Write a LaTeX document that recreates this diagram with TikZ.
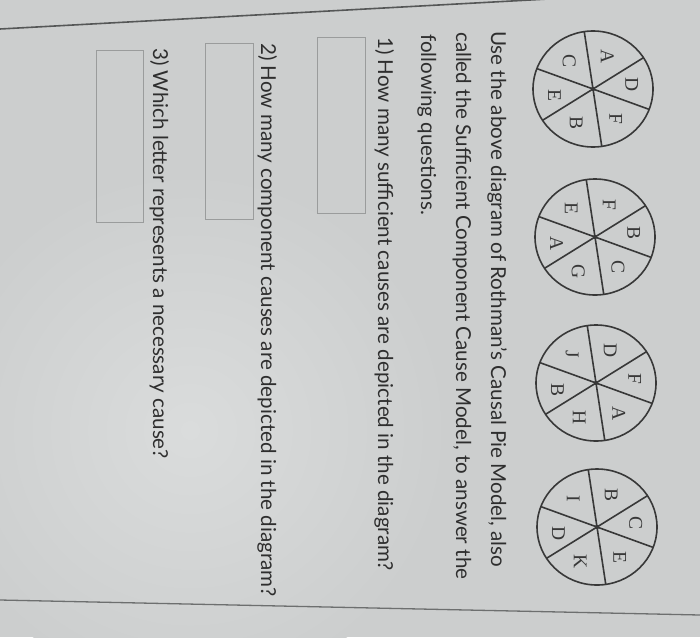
\documentclass[tikz,border=0pt]{standalone}
\usepackage{fontspec}
\setmainfont{Lato}
\newfontfamily\piefont{Liberation Serif}
\usetikzlibrary{calc}
\definecolor{bg}{HTML}{CCCECE}
\definecolor{bglight}{HTML}{DADCDC}
\definecolor{txt}{HTML}{2E2E2E}
\definecolor{pieink}{HTML}{383838}
\definecolor{boxc}{HTML}{9A9C9C}
\definecolor{rule}{HTML}{555757}
\newlength\qlen
\newcommand\causepie[8]{%
  \coordinate (#1) at #2;
  \draw[pieline] (#1) ellipse [x radius=60, y radius=58];
  \foreach \a in {81.6,20.6,-32.7}
    \draw[pieline] ($(#1)+(\a:60 and 58)$) -- ($(#1)+(\a+180:60 and 58)$);
  \fill[pieink] (#1) circle (2.2);
  \node[pielbl] (#1-c) at ($(#1)+(-130:37)$) {#3};
  \node[pielbl] (#1-a) at ($(#1)+(-66:35)$) {#4};
  \node[pielbl] (#1-d) at ($(#1)+(-6:39)$) {#5};
  \node[pielbl] (#1-f) at ($(#1)+(53:38)$) {#6};
  \node[pielbl] (#1-b) at ($(#1)+(116:38)$) {#7};
  \node[pielbl] (#1-e) at ($(#1)+(170:39)$) {#8};
}
\begin{document}
\settowidth\qlen{\fontsize{20}{24}\selectfont Use the above diagram of Rothman's Causal Pie Model, also}%
\pgfmathsetmacro\qsize{20*536/\qlen}%
\begin{tikzpicture}[x=1pt,y=-1pt,
  qtext/.style={rotate=-90,anchor=base west,inner sep=0pt,
    font=\fontsize{\qsize}{24}\selectfont,text=txt},
  pielbl/.style={rotate=-90,inner sep=0pt,
    font=\piefont\fontsize{19.5}{19.5}\selectfont,text=pieink},
  pieline/.style={draw=pieink,line width=1.6pt},
  answerbox/.style={draw=boxc,line width=1pt,inner sep=0pt}]
\useasboundingbox (0,0) rectangle (700,637);
\begin{scope}
  \clip (0,0) rectangle (700,637);
  \fill[bg] (0,0) rectangle (700,637);
  \shade[inner color=bglight,outer color=bg] (190,430) circle (260);
  \draw[rule,line width=1.6pt] (0,29) -- (700,-9.3);
  \draw[rule!80!bg,line width=1.3pt] (0,600) -- (700,615);
\end{scope}

\causepie{p1}{(593,89)}{C}{A}{D}{F}{B}{E}
\causepie{p2}{(595,237)}{E}{F}{B}{C}{G}{A}
\causepie{p3}{(596,383)}{J}{D}{F}{A}{H}{B}
\causepie{p4}{(597,527)}{I}{B}{C}{E}{K}{D}

\node[qtext] (l1) at (491,31) {Use the above diagram of Rothman's Causal Pie Model, also};
\node[qtext] (l2) at (456,32) {called the Sufficient Component Cause Model, to answer the};
\node[qtext] (l3) at (421,34) {following questions.};
\node[qtext] (q1) at (378,37) {1) How many sufficient causes are depicted in the diagram?};
\node[qtext] (q2) at (261,43) {2) How many component causes are depicted in the diagram?};
\node[qtext] (q3) at (153,48) {3) Which letter represents a necessary cause?};

\node[answerbox,minimum width=48pt,minimum height=176pt] (a1) at (341,125) {};
\node[answerbox,minimum width=48pt,minimum height=176pt] (a2) at (229,131) {};
\node[answerbox,minimum width=47pt,minimum height=172pt] (a3) at (119.5,136) {};
\end{tikzpicture}
\end{document}
